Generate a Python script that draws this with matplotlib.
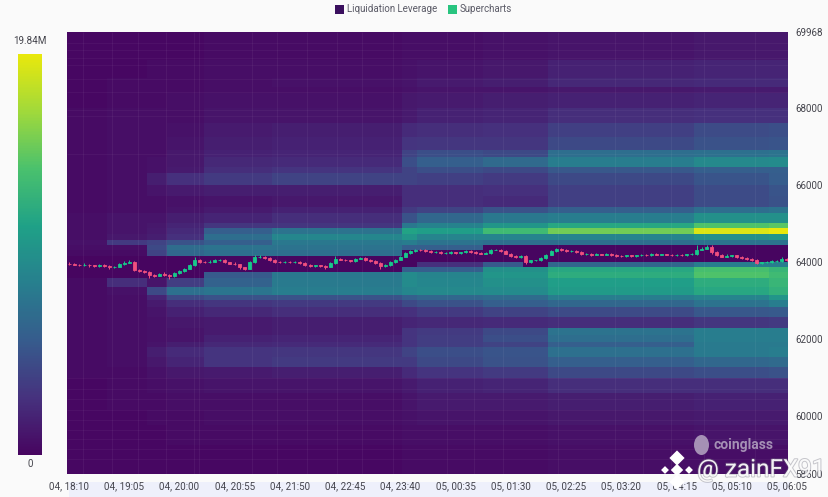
import matplotlib
matplotlib.use('Agg')
import matplotlib.pyplot as plt
import numpy as np
import matplotlib.patheffects as pe
from matplotlib.patches import Rectangle, Ellipse
from matplotlib.colors import LinearSegmentedColormap

plt.rcParams['font.family'] = ['Roboto', 'DejaVu Sans']

# colour scale top, millions
peak = 19.84

# time axis, minutes after 04, 18:10
tick_labels = ['04, 18:10', '04, 19:05', '04, 20:00', '04, 20:55', '04, 21:50', '04, 22:45', '04, 23:40',
               '05, 00:35', '05, 01:30', '05, 02:25', '05, 03:20', '05, 04:15', '05, 05:10', '05, 06:05']
tick_minutes = [0, 55, 110, 165, 220, 275, 330, 385, 440, 495, 550, 605, 660, 715]
price_ticks = [58500, 60000, 62000, 64000, 66000, 68000, 69968]

# heatmap blocks: the chart steps at these times
block_edges = [-2, 38, 78, 98, 134, 202, 332, 347, 412, 452, 477, 622, 697, 716]
# price rows, top to bottom
price_edges = [69968, 69246, 68778, 68550, 68389, 68000, 67610, 67246, 66909, 66727, 66467, 66311, 66000, 65714, 65428,
               65273, 65013, 64883, 64727, 64571, 64441, 64312, 64156, 64000, 63870, 63740, 63584, 63350, 63143,
               63013, 62831, 62571, 62286, 62104, 61922, 61792, 61533, 61273, 60987, 60597, 60156, 59767, 59247, 58500]
# share of peak per row and block
heat_share = [
    [.01, .01, .01, .01, .02, .02, .03, .03, .04, .04, .05, .06, .06],
    [.01, .01, .02, .02, .03, .03, .04, .05, .06, .06, .09, .10, .10],
    [.01, .02, .02, .02, .03, .04, .05, .07, .08, .08, .11, .12, .12],
    [.01, .02, .02, .02, .03, .03, .04, .05, .05, .05, .06, .07, .07],
    [.01, .02, .02, .03, .04, .04, .06, .07, .08, .08, .09, .10, .10],
    [.02, .03, .03, .03, .05, .05, .07, .09, .10, .10, .13, .14, .14],
    [.02, .03, .03, .04, .07, .08, .12, .13, .14, .14, .19, .23, .24],
    [.02, .03, .03, .05, .08, .09, .15, .16, .16, .16, .22, .25, .26],
    [.02, .03, .03, .06, .09, .10, .20, .24, .22, .22, .36, .37, .38],
    [.02, .03, .04, .06, .11, .12, .24, .30, .34, .34, .42, .47, .48],
    [.02, .03, .04, .07, .13, .15, .20, .24, .22, .22, .27, .30, .30],
    [.02, .03, .08, .14, .17, .20, .20, .19, .17, .17, .22, .26, .29],
    [.02, .03, .05, .07, .08, .08, .13, .13, .14, .14, .19, .23, .26],
    [.02, .03, .03, .04, .05, .06, .13, .13, .12, .12, .19, .23, .25],
    [.02, .03, .03, .05, .07, .09, .17, .20, .25, .25, .30, .36, .38],
    [.03, .05, .05, .08, .10, .13, .25, .33, .40, .40, .42, .50, .50],
    [.03, .05, .06, .10, .16, .16, .40, .44, .52, .52, .60, .72, .74],
    [.03, .05, .07, .12, .30, .38, .58, .56, .68, .68, .78, .97, 1.0],
    [.03, .06, .08, .14, .36, .46, .52, .45, .45, .45, .45, .50, .52],
    [.04, .17, .20, .25, .30, .40, .42, .38, .36, .36, .36, .38, .38],
    [.03, .03, .22, .35, .38, .38, .30, .30, 0, 0, 0, 0, 0],
    [.02, .02, .20, .33, .36, .36, 0, 0, 0, 0, 0, 0, 0],
    [0, 0, 0, 0, 0, 0, 0, 0, 0, 0, 0, 0, 0],
    [0, 0, 0, 0, 0, 0, 0, .14, .28, 0, .33, .42, .42],
    [0, 0, 0, 0, 0, 0, .30, .30, .50, .50, .60, .70, .66],
    [0, 0, 0, 0, .28, .40, .48, .45, .52, .52, .62, .72, .68],
    [.02, .13, .05, .18, .31, .41, .48, .46, .50, .50, .56, .62, .66],
    [.02, .04, .22, .37, .39, .42, .46, .47, .48, .48, .54, .60, .64],
    [.02, .03, .10, .22, .25, .25, .30, .33, .35, .35, .42, .45, .52],
    [.02, .03, .07, .13, .16, .17, .22, .25, .30, .30, .33, .38, .42],
    [.02, .03, .05, .09, .11, .13, .14, .17, .20, .20, .23, .27, .28],
    [.02, .03, .04, .06, .07, .08, .10, .11, .12, .12, .13, .16, .17],
    [.02, .03, .04, .05, .07, .08, .15, .17, .22, .22, .38, .42, .42],
    [.02, .03, .04, .05, .09, .10, .15, .18, .24, .24, .36, .42, .42],
    [.02, .03, .05, .08, .11, .12, .15, .18, .20, .20, .30, .41, .41],
    [.02, .03, .08, .12, .15, .16, .20, .24, .26, .26, .37, .41, .42],
    [.02, .03, .06, .10, .15, .17, .17, .22, .25, .25, .30, .33, .34],
    [.02, .02, .04, .06, .07, .08, .12, .15, .17, .17, .22, .24, .25],
    [.01, .02, .03, .04, .05, .05, .07, .09, .10, .10, .13, .13, .13],
    [.01, .02, .02, .03, .03, .03, .05, .07, .07, .07, .08, .09, .09],
    [.01, .01, .02, .02, .03, .03, .04, .05, .05, .05, .06, .07, .07],
    [.01, .01, .01, .02, .02, .02, .03, .03, .03, .03, .04, .05, .05],
    [.01, .01, .01, .01, .01, .01, .02, .02, .02, .02, .03, .03, .03],
]

# 5 minute candles
first_open = 63960
closes = [63950, 63930, 63925, 63935, 63910, 63900, 63925, 63895, 63880, 63880, 63950, 63985,
          64000, 63800, 63770, 63740, 63660, 63650, 63680, 63670, 63630, 63720, 63760, 63830,
          63930, 64050, 64010, 64000, 64010, 64050, 64060, 63990, 63960, 63940, 63860, 63830,
          63990, 64120, 64130, 64100, 64060, 64000, 63990, 64010, 63990, 64000, 63980, 63930,
          63900, 63910, 63890, 63880, 63970, 64080, 64060, 64040, 64020, 64090, 64100, 64050,
          64030, 63970, 63900, 63920, 64000, 64060, 64140, 64230, 64290, 64310, 64300, 64280,
          64250, 64260, 64230, 64240, 64250, 64240, 64250, 64280, 64270, 64230, 64220, 64240,
          64320, 64320, 64290, 64220, 64150, 64130, 64150, 64000, 64040, 64040, 64110, 64190,
          64290, 64340, 64310, 64280, 64290, 64270, 64210, 64220, 64190, 64200, 64190, 64210,
          64180, 64160, 64150, 64170, 64150, 64170, 64190, 64170, 64210, 64190, 64200, 64190,
          64170, 64180, 64170, 64200, 64220, 64320, 64350, 64400, 64250, 64180, 64140, 64160,
          64170, 64130, 64110, 64090, 64050, 63980, 63990, 64000, 64020, 64030, 64090, 64050]
wick_up = [30, 20, 25, 30, 20, 20, 30, 20, 20, 25, 20, 30,
           40, 30, 25, 20, 30, 20, 25, 60, 30, 20, 30, 25,
           30, 70, 30, 25, 30, 30, 25, 20, 20, 30, 20, 20,
           25, 50, 60, 25, 20, 20, 25, 25, 20, 20, 20, 20,
           20, 25, 25, 20, 20, 70, 25, 20, 25, 20, 30, 25,
           20, 20, 20, 20, 25, 25, 20, 25, 20, 20, 25, 30,
           20, 25, 20, 20, 25, 20, 20, 20, 20, 25, 20, 25,
           30, 25, 20, 25, 25, 20, 20, 30, 20, 25, 20, 25,
           30, 20, 25, 20, 20, 20, 20, 20, 20, 25, 20, 20,
           20, 20, 20, 20, 25, 20, 20, 20, 25, 20, 20, 20,
           20, 20, 25, 20, 25, 110, 30, 50, 50, 25, 20, 40,
           25, 20, 20, 20, 20, 20, 20, 20, 25, 20, 40, 25]
wick_down = [25, 20, 30, 25, 50, 30, 20, 25, 60, 25, 20, 20,
             20, 40, 30, 25, 70, 30, 25, 25, 60, 20, 25, 20,
             20, 25, 30, 25, 20, 20, 20, 25, 20, 20, 30, 25,
             20, 20, 25, 20, 25, 20, 20, 25, 20, 20, 20, 25,
             25, 20, 25, 70, 20, 20, 20, 25, 20, 25, 20, 25,
             20, 25, 80, 25, 20, 20, 20, 20, 25, 20, 20, 25,
             20, 20, 25, 20, 20, 20, 20, 20, 25, 20, 20, 20,
             20, 20, 25, 20, 25, 20, 25, 40, 25, 20, 20, 20,
             20, 25, 20, 20, 20, 25, 20, 20, 25, 20, 20, 20,
             20, 25, 20, 20, 20, 20, 20, 20, 25, 20, 20, 20,
             20, 20, 20, 20, 20, 30, 20, 20, 30, 25, 20, 20,
             30, 20, 25, 25, 25, 40, 20, 20, 20, 25, 20, 20]

# faint grid seams in the heatmap
seam_minutes = [14, 43, 69, 97, 124, 129, 182, 207, 237, 267, 292, 323, 376, 403, 432, 487, 544, 572, 599, 632, 683]
seam_prices = [69690, 69500, 69300, 69100, 68750, 68400, 67950, 67800, 66800, 61000, 60700, 60450, 60150, 59900,
               59650, 59400, 59150, 58900]

# viridis, slightly duller at both ends as in the reference
heat_cmap = LinearSegmentedColormap.from_list(
    'heat', ['#470560', '#46327e', '#365c8d', '#277f8e', '#1fa187', '#4ac16d', '#a0d93b', '#e9e80c'])

fig = plt.figure(figsize=(8.29, 4.97), dpi=100, facecolor='#fafafa')

def axes_px(x0, y0, x1, y1):
    return [x0 / 829, 1 - y1 / 497, (x1 - x0) / 829, (y1 - y0) / 497]

# pale strip at the bottom edge
fig.patches.append(Rectangle((69 / 829, 0), 721 / 829, 15 / 497, transform=fig.transFigure,
                             facecolor='#eef0fb', edgecolor='none', zorder=-1))

ax = fig.add_axes(axes_px(67, 32, 788, 474))
heat = np.array(heat_share) * peak
mesh = ax.pcolormesh(block_edges, price_edges, heat, cmap=heat_cmap, vmin=0, vmax=peak, linewidth=0, rasterized=True)
ax.vlines(seam_minutes, price_edges[-1], price_edges[0], color='white', lw=0.7, alpha=0.05)
ax.hlines(seam_prices, block_edges[0], block_edges[-1], color='white', lw=0.7, alpha=0.04)

closes = np.array(closes)
opens = np.r_[first_open, closes[:-1]]
times = np.arange(len(closes)) * 5
highs = np.maximum(opens, closes) + np.array(wick_up)
lows = np.minimum(opens, closes) - np.array(wick_down)
colors = np.where(closes >= opens, '#17c98b', '#f0507f')
ax.vlines(times, lows, highs, color=colors, lw=0.7, zorder=3)
ax.bar(times, closes - opens, bottom=opens, width=3.0, color=colors, edgecolor=colors, linewidth=0.6, zorder=4)

ax.set_xlim(block_edges[0], block_edges[-1])
ax.set_ylim(price_edges[-1], price_edges[0])
ax.set_xticks(tick_minutes)
ax.set_xticklabels(tick_labels)
ax.set_yticks(price_ticks)
ax.yaxis.tick_right()
ax.tick_params(length=0, labelsize=7.1, labelcolor='#44444c', pad=5)
for s in ax.spines.values():
    s.set_visible(False)

# colour bar on the left
cax = fig.add_axes(axes_px(18, 54, 42, 455))
cb = fig.colorbar(mesh, cax=cax)
cb.set_ticks([])
cb.outline.set_visible(False)

# overlay in pixel coordinates for legend, captions, watermarks
over = fig.add_axes([0, 0, 1, 1], facecolor='none')
over.set_xlim(0, 829)
over.set_ylim(497, 0)
over.axis('off')

over.text(30, 41, '19.84M', ha='center', va='center', fontsize=7.1, color='#44444c')
over.text(30, 464, '0', ha='center', va='center', fontsize=7.1, color='#44444c')

over.add_patch(Rectangle((335, 5), 9, 9, facecolor='#3a0f5e', edgecolor='none'))
over.text(347.5, 9.5, 'Liquidation Leverage', va='center', fontsize=7, color='#5a5a66')
over.add_patch(Rectangle((448, 5), 9, 9, facecolor='#28c47f', edgecolor='none'))
over.text(460, 9.5, 'Supercharts', va='center', fontsize=7, color='#5a5a66')

# coinglass mark
over.add_patch(Ellipse((701.5, 445), 15, 20, facecolor='#a590b5', edgecolor='none'))
over.text(714, 445, 'coinglass', va='center', fontsize=10, fontweight='bold', color='#a590b5')

# binance style mark and handle
mark_x = [677, 665, 689, 677, 677]
mark_y = [470, 470, 470, 458, 482]
over.scatter(mark_x, mark_y, marker='D', s=[40, 16, 16, 60, 60], color='white', linewidths=0, zorder=5)
handle = over.text(697, 470, '@ zainFX91', va='center', fontsize=17.5, color='white', alpha=0.9, zorder=5, clip_on=True)
handle.set_path_effects([pe.withStroke(linewidth=1.4, foreground='#777785', alpha=0.4)])

plt.savefig('out.png', dpi=100, facecolor=fig.get_facecolor())
